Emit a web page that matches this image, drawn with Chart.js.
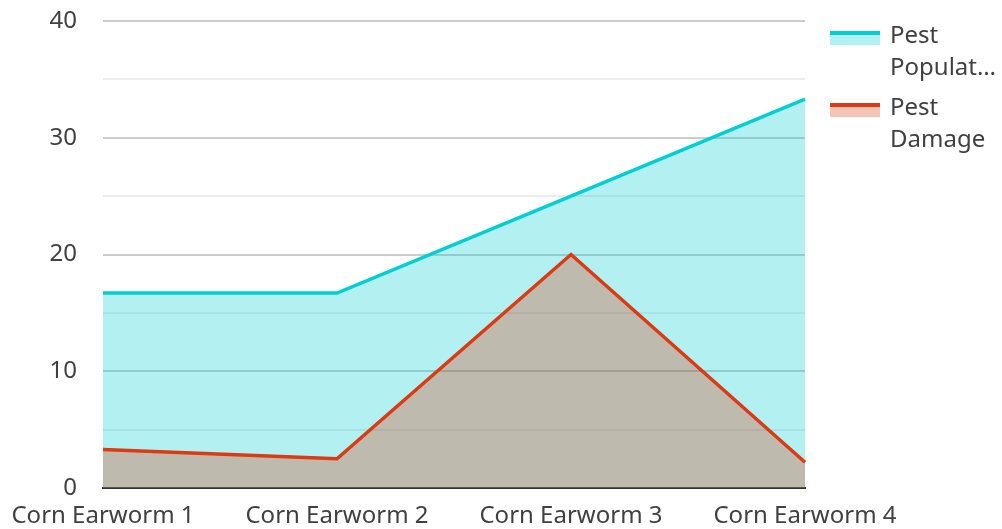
<!DOCTYPE html>
<html>
<head>
<meta charset="utf-8">
<script src="https://cdn.jsdelivr.net/npm/chart.js@4"></script>
<style>
  html, body { margin: 0; padding: 0; background: #fff; }
  #wrap { position: relative; width: 1002px; height: 529px; }
  #legend { position: absolute; left: 830px; top: 18px; font-family: "Noto Sans", sans-serif; font-size: 24px; color: #404040; }
  .item { position: relative; padding-left: 60px; margin-bottom: 8px; line-height: 32px; white-space: nowrap; }
  .swatch { position: absolute; left: 0; top: 13px; width: 50px; height: 14px; }
  .swatch .ln { height: 4px; }
  .swatch .fl { height: 10px; }
</style>
</head>
<body>
<div id="wrap">
  <canvas id="chart" width="1002" height="529"></canvas>
  <div id="legend"></div>
</div>
<script>
const categories = ['Corn Earworm 1', 'Corn Earworm 2', 'Corn Earworm 3', 'Corn Earworm 4'];
const seriesNames = ['Pest Population', 'Pest Damage'];
const pestPopulation = [16.7, 16.7, 25, 33.3];
const pestDamage = [3.3, 2.5, 20, 2.2];
const yTicks = [0, 10, 20, 30, 40];

const lineColors = ['rgb(0, 206, 209)', 'rgb(220, 58, 18)'];
const fillColors = ['rgba(0, 206, 209, 0.3)', 'rgba(220, 58, 18, 0.3)'];
const FONT = '"Noto Sans", sans-serif';

document.addEventListener('DOMContentLoaded', () => {
    const ctx = document.getElementById('chart').getContext('2d');

    const chart = new Chart(ctx, {
        type: 'line',
        data: {
            labels: categories,
            datasets: [pestPopulation, pestDamage].map((values, i) => ({
                label: seriesNames[i],
                data: values,
                borderColor: lineColors[i],
                backgroundColor: fillColors[i],
                borderWidth: 3.5,
                fill: 'origin',
                pointRadius: 0,
                tension: 0,
                order: 1 - i   // later series on top
            }))
        },
        options: {
            responsive: false,
            animation: false,
            layout: { padding: { top: 21, right: 197, bottom: 0, left: 0 } },
            plugins: {
                legend: { display: false },
                tooltip: { enabled: false }
            },
            scales: {
                x: {
                    offset: false,
                    afterFit: scale => {
                        scale.height = 41;
                        scale.paddingLeft = 0;
                        scale.paddingRight = 0;
                    },
                    grid: { display: false, drawTicks: false },
                    border: { display: true, color: '#333', width: 2 },
                    ticks: {
                        padding: 14,
                        maxRotation: 0,
                        autoSkip: false,
                        color: '#404040',
                        font: { family: FONT, size: 24 }
                    }
                },
                y: {
                    min: yTicks[0],
                    max: yTicks[yTicks.length - 1],
                    afterFit: scale => {
                        scale.width = 103;
                        scale.paddingTop = 0;
                        scale.paddingBottom = 0;
                    },
                    border: { display: false },
                    grid: {
                        drawTicks: false,
                        lineWidth: 2,
                        color: c => (yTicks.includes(c.tick.value) ? '#cccccc' : '#ececec')
                    },
                    ticks: {
                        stepSize: 5,
                        padding: 26,
                        color: '#404040',
                        font: { family: FONT, size: 24 },
                        callback: v => (yTicks.includes(v) ? v : '')
                    }
                }
            }
        }
    });

    // html legend, long names wrap onto two lines
    const legend = document.getElementById('legend');
    const measure = document.createElement('canvas').getContext('2d');
    measure.font = '24px ' + FONT;
    const maxW = 108;

    function wrap(text) {
        const words = text.split(' ');
        const lines = [];
        let cur = '';
        words.forEach(w => {
            const test = cur ? cur + ' ' + w : w;
            if (measure.measureText(test).width <= maxW) {
                cur = test;
            } else {
                if (cur) lines.push(cur);
                cur = w;
            }
        });
        if (cur) lines.push(cur);
        return lines.slice(0, 2).map(line => {
            if (measure.measureText(line).width <= maxW) return line;
            let t = line;
            while (t.length && measure.measureText(t + '…').width > maxW) t = t.slice(0, -1);
            return t + '…';
        });
    }

    chart.data.datasets.forEach(ds => {
        const item = document.createElement('div');
        item.className = 'item';
        const sw = document.createElement('div');
        sw.className = 'swatch';
        const ln = document.createElement('div');
        ln.className = 'ln';
        ln.style.background = ds.borderColor;
        const fl = document.createElement('div');
        fl.className = 'fl';
        fl.style.background = ds.backgroundColor;
        sw.appendChild(ln);
        sw.appendChild(fl);
        item.appendChild(sw);
        wrap(ds.label).forEach(line => {
            const d = document.createElement('div');
            d.textContent = line;
            item.appendChild(d);
        });
        legend.appendChild(item);
    });
});
</script>
</body>
</html>
